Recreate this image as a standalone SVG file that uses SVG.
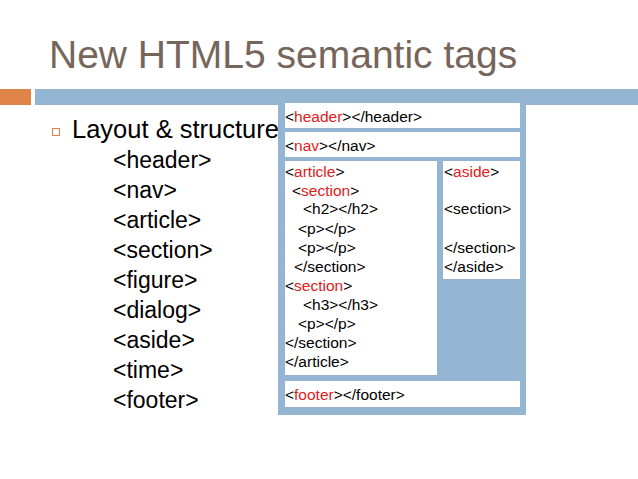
<svg xmlns="http://www.w3.org/2000/svg" width="638" height="479" viewBox="0 0 638 479">
<style>
.t{font-family:"Liberation Sans",Arial,sans-serif;}
.code{font-family:"Liberation Sans",Arial,sans-serif;font-size:15.5px;fill:#000;}
.r{fill:#e02020;}
.box{fill:#fff;}
.item{font-family:"Liberation Sans",Arial,sans-serif;font-size:23px;fill:#000;}
</style>
<rect width="638" height="479" fill="#fff"/>
<text class="t" x="49" y="68" font-size="39" fill="#76655a">New HTML5 semantic tags</text>
<rect x="0" y="89" width="31" height="16" fill="#de8449"/>
<rect x="35" y="89" width="603" height="16" fill="#94b6d2"/>
<g id="list">
<rect x="52.5" y="128.5" width="7" height="7" fill="none" stroke="#de8449" stroke-width="1"/>
<text class="t" x="72" y="138" font-size="25.5" fill="#000">Layout &amp; structure</text>
<text class="item" x="113" y="168">&lt;header&gt;</text>
<text class="item" x="113" y="198">&lt;nav&gt;</text>
<text class="item" x="113" y="228">&lt;article&gt;</text>
<text class="item" x="113" y="258">&lt;section&gt;</text>
<text class="item" x="113" y="288">&lt;figure&gt;</text>
<text class="item" x="113" y="318">&lt;dialog&gt;</text>
<text class="item" x="113" y="348">&lt;aside&gt;</text>
<text class="item" x="113" y="378">&lt;time&gt;</text>
<text class="item" x="113" y="408">&lt;footer&gt;</text>
</g>
<g id="panel">
<rect x="278" y="98" width="248" height="317" fill="#94b6d2"/>
</g>
<g id="header">
<rect class="box" x="285" y="103" width="235" height="25"/>
<text class="code" x="285" y="122">&lt;<tspan class="r">header</tspan>&gt;&lt;/header&gt;</text>
</g>
<g id="nav">
<rect class="box" x="285" y="132" width="235" height="25"/>
<text class="code" x="285" y="151">&lt;<tspan class="r">nav</tspan>&gt;&lt;/nav&gt;</text>
</g>
<g id="article">
<rect class="box" x="285" y="161" width="152" height="214"/>
<text class="code" x="285" y="177">&lt;<tspan class="r">article</tspan>&gt;</text>
<text class="code" x="292" y="196">&lt;<tspan class="r">section</tspan>&gt;</text>
<text class="code" x="303" y="214">&lt;h2&gt;&lt;/h2&gt;</text>
<text class="code" x="298" y="234">&lt;p&gt;&lt;/p&gt;</text>
<text class="code" x="298" y="253">&lt;p&gt;&lt;/p&gt;</text>
<text class="code" x="294" y="272">&lt;/section&gt;</text>
<text class="code" x="285" y="291">&lt;<tspan class="r">section</tspan>&gt;</text>
<text class="code" x="303" y="310">&lt;h3&gt;&lt;/h3&gt;</text>
<text class="code" x="298" y="329">&lt;p&gt;&lt;/p&gt;</text>
<text class="code" x="285" y="348">&lt;/section&gt;</text>
<text class="code" x="285" y="367">&lt;/article&gt;</text>
</g>
<g id="aside">
<rect class="box" x="443" y="161" width="77" height="118"/>
<text class="code" x="444" y="177">&lt;<tspan class="r">aside</tspan>&gt;</text>
<text class="code" x="444" y="214">&lt;section&gt;</text>
<text class="code" x="444" y="253">&lt;/section&gt;</text>
<text class="code" x="444" y="272">&lt;/aside&gt;</text>
</g>
<g id="footer">
<rect class="box" x="285" y="381" width="235" height="26"/>
<text class="code" x="285" y="400">&lt;<tspan class="r">footer</tspan>&gt;&lt;/footer&gt;</text>
</g>
<g id="connectors"/>
</svg>
